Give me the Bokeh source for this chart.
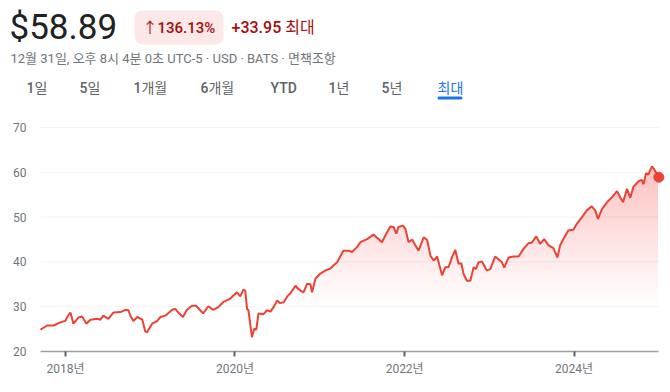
import numpy as np
import pandas as pd
from bokeh.plotting import figure
from bokeh.models import (Range1d, FixedTicker, DatetimeTickFormatter, Label, BoxAnnotation,
                          LinearAxis, DatetimeAxis)
from bokeh.embed import file_html
from bokeh.resources import INLINE

# ---- data ----
dates = [
    "2017-09-15", "2017-10-14", "2017-11-10", "2017-12-10", "2018-01-01", "2018-01-08",
    "2018-01-22", "2018-02-04", "2018-02-26", "2018-03-13", "2018-04-01", "2018-04-18",
    "2018-05-17", "2018-05-31", "2018-06-13", "2018-07-04", "2018-07-26", "2018-08-25",
    "2018-09-16", "2018-09-29", "2018-10-07", "2018-10-20", "2018-11-06", "2018-11-28",
    "2018-12-10", "2018-12-18", "2019-01-09", "2019-01-30", "2019-02-14", "2019-03-07",
    "2019-04-05", "2019-04-19", "2019-05-02", "2019-05-22", "2019-06-08", "2019-06-30",
    "2019-07-18", "2019-08-04", "2019-08-17", "2019-09-08", "2019-09-29", "2019-10-21",
    "2019-11-11", "2019-12-12", "2019-12-25", "2020-01-10", "2020-01-24", "2020-02-06",
    "2020-02-14", "2020-02-22", "2020-02-28", "2020-03-14", "2020-03-24", "2020-04-02",
    "2020-04-11", "2020-05-02", "2020-05-18", "2020-06-02", "2020-06-15", "2020-07-01",
    "2020-07-12", "2020-07-29", "2020-08-13", "2020-08-27", "2020-09-18", "2020-09-25",
    "2020-10-09", "2020-10-22", "2020-11-07", "2020-11-21", "2020-11-28", "2020-12-13",
    "2021-01-03", "2021-01-25", "2021-02-15", "2021-02-28", "2021-03-16", "2021-04-12",
    "2021-05-05", "2021-05-19", "2021-06-10", "2021-06-24", "2021-07-23", "2021-08-20",
    "2021-09-25", "2021-10-17", "2021-10-31", "2021-11-14", "2021-11-26", "2021-12-05",
    "2021-12-24", "2022-01-04", "2022-01-18", "2022-02-02", "2022-02-16", "2022-03-02",
    "2022-03-24", "2022-04-08", "2022-04-22", "2022-05-06", "2022-05-21", "2022-06-11",
    "2022-06-25", "2022-07-09", "2022-07-24", "2022-08-07", "2022-08-21", "2022-09-02",
    "2022-09-12", "2022-09-26", "2022-10-11", "2022-10-25", "2022-11-04", "2022-11-15",
    "2022-11-30", "2022-12-21", "2023-01-05", "2023-01-26", "2023-02-09", "2023-02-24",
    "2023-03-06", "2023-03-25", "2023-04-15", "2023-05-07", "2023-05-28", "2023-06-19",
    "2023-07-03", "2023-07-22", "2023-08-08", "2023-08-25", "2023-09-13", "2023-10-04",
    "2023-10-21", "2023-11-02", "2023-11-16", "2023-12-07", "2023-12-29", "2024-01-13",
    "2024-02-04", "2024-02-25", "2024-03-17", "2024-04-01", "2024-04-13", "2024-04-30",
    "2024-05-22", "2024-06-12", "2024-07-04", "2024-07-18", "2024-07-30", "2024-08-16",
    "2024-08-30", "2024-09-13", "2024-10-05", "2024-10-19", "2024-10-26", "2024-11-06",
    "2024-11-16", "2024-12-01", "2024-12-11", "2024-12-31",
]
prices = [
    24.9, 25.8, 25.8, 26.5, 26.9, 27.7,
    28.7, 26.2, 27.6, 27.8, 26.2, 27.1,
    27.3, 27.1, 28.0, 27.3, 28.7, 28.8,
    29.3, 29.2, 28.0, 26.8, 27.7, 27.1,
    24.5, 24.3, 26.2, 26.8, 27.7, 28.0,
    29.3, 29.5, 28.7, 27.7, 29.3, 30.2,
    30.2, 29.2, 28.5, 30.1, 29.3, 29.9,
    31.0, 31.8, 32.5, 33.2, 32.3, 33.8,
    33.6, 29.5, 29.2, 23.2, 25.1, 24.9,
    28.5, 28.3, 29.2, 28.9, 29.9, 31.4,
    30.8, 31.0, 32.3, 33.0, 34.7, 34.2,
    33.6, 33.2, 35.1, 35.0, 33.2, 36.3,
    37.4, 38.1, 38.5, 39.2, 39.9, 42.5,
    42.5, 42.2, 43.3, 44.4, 45.1, 46.1,
    44.4, 46.6, 47.9, 47.8, 46.3, 47.8,
    48.1, 47.4, 44.4, 45.0, 43.7, 42.5,
    45.5, 44.9, 41.4, 40.3, 41.2, 37.0,
    38.8, 38.8, 41.0, 42.7, 39.6, 39.7,
    37.3, 35.8, 35.8, 38.8, 38.4, 39.9,
    40.1, 38.1, 38.4, 41.2, 40.6, 39.9,
    38.7, 41.0, 41.2, 41.2, 42.9, 44.2,
    44.3, 45.7, 44.0, 45.1, 43.7, 43.1,
    41.0, 43.7, 45.1, 47.0, 47.2, 48.5,
    50.0, 51.5, 52.4, 51.5, 49.6, 51.8,
    53.3, 54.4, 55.8, 54.4, 53.3, 56.3,
    54.3, 56.8, 58.0, 58.3, 57.3, 59.8,
    59.5, 61.3, 60.7, 58.9,
]
y_ticks = [20, 30, 40, 50, 60, 70]
x_tick_dates = ["2018-01-01", "2020-01-01", "2022-01-01", "2024-01-01"]
tabs = ["1일", "5일", "1개월", "6개월", "YTD", "1년", "5년", "최대"]
price_text = "$58.89"
change_pct = "↑136.13%"
change_abs = "+33.95 최대"
subtitle = "12월 31일, 오후 8시 4분 0초 UTC-5 · USD · BATS · 면책조항"

# ---- styling / layout ----
RED = "#ea4335"
DARK_RED = "#a50e0e"
GRAY = "#70757a"
FONT = "Roboto, 'Noto Sans CJK KR', sans-serif"
MED = "'Roboto Medium', Roboto, 'Noto Sans CJK KR', sans-serif"
W, H = 670, 392
PLOT_L, PLOT_R = 40.0, 658.3      # pixel span of the data
BASE_Y, PX_PER_UNIT = 351.0, 4.48  # pixel row of value 20, pixels per unit

x = pd.to_datetime(dates)
v = np.array(prices)
x_ms = (x.astype("int64") // 10**6).to_numpy().astype(float)
ms_per_px = (x_ms[-1] - x_ms[0]) / (PLOT_R - PLOT_L)
xr = Range1d(x_ms[0] - PLOT_L * ms_per_px, x_ms[-1] + (W - PLOT_R) * ms_per_px)
yr = Range1d(20 - (H - BASE_Y) / PX_PER_UNIT, 20 + BASE_Y / PX_PER_UNIT)

p = figure(width=W, height=H, x_range=xr, y_range=yr,
           x_axis_location=None, y_axis_location=None,
           output_backend="svg", toolbar_location=None, min_border=0)
p.outline_line_color = None
for g in p.grid:
    g.visible = False
p.renderers = [r for r in p.renderers if r.__class__.__name__ != "Grid"]
p.center = [c for c in p.center if c.__class__.__name__ != "Grid"]

# horizontal gridlines limited to the data span
p.segment(x0=[x_ms[0]] * 5, x1=[x_ms[-1]] * 5, y0=y_ticks[1:], y1=y_ticks[1:],
          line_color="#f1f3f4", line_width=1)

# gradient fill via stacked translucent layers
levels = np.arange(20.0, 61.5, 0.5)
def target_alpha(y):
    return 0.24 * np.clip((y - 20.0) / 41.3, 0, 1) ** 1.7
prev = 0.0
for lo in levels:
    A = target_alpha(lo + 0.5)
    a = 1 - (1 - A) / (1 - prev)
    prev = A
    if a <= 0:
        continue
    p.varea(x=x_ms, y1=np.full(len(v), lo), y2=np.maximum(v, lo), fill_color=RED, fill_alpha=float(a))

p.line(x_ms, v, line_color=RED, line_width=2)
p.scatter([x_ms[-1]], [v[-1]], size=10, color=RED)

# x axis fixed at value 20
xaxis = DatetimeAxis(fixed_location=20)
xaxis.ticker = FixedTicker(ticks=[pd.Timestamp(d).value / 1e6 for d in x_tick_dates])
xaxis.formatter = DatetimeTickFormatter(years="%Y년", months="%Y년", days="%Y년")
xaxis.axis_line_color = "#9aa0a6"
xaxis.axis_line_width = 1.5
xaxis.bounds = (x_ms[0], x_ms[-1])
xaxis.major_tick_line_color = "#5f6368"
xaxis.major_tick_line_width = 2
xaxis.major_tick_out = 5
xaxis.major_tick_in = 0
xaxis.minor_tick_line_color = None
xaxis.major_label_standoff = 5
xaxis.major_label_text_color = GRAY
xaxis.major_label_text_font = FONT
xaxis.major_label_text_font_size = "12px"
p.add_layout(xaxis, "below")

# y axis fixed at the start of the data
yaxis = LinearAxis(fixed_location=x_ms[0])
yaxis.ticker = FixedTicker(ticks=y_ticks)
yaxis.axis_line_color = None
yaxis.major_tick_line_color = None
yaxis.minor_tick_line_color = None
yaxis.major_label_standoff = 8
yaxis.major_label_text_color = GRAY
yaxis.major_label_text_font = FONT
yaxis.major_label_text_font_size = "12px"
p.add_layout(yaxis, "left")

# header texts (screen units: frame covers the whole canvas)
def lab(text, px, py, size, color, font=FONT, **kw):
    p.add_layout(Label(x=px, y=H - py, x_units="screen", y_units="screen", text=text,
                       text_font=font, text_font_size=size, text_color=color,
                       text_align="left", text_baseline="middle", **kw))

lab(price_text, 9, 27, "35px", "#202124")
lab(change_pct, 134, 27, "15px", DARK_RED, font=MED,
    background_fill_color="#fce8e6", padding=8, border_radius=8)
lab(change_abs, 231, 27, "16px", DARK_RED, font=MED)
lab(subtitle, 10, 58, "13px", GRAY)

tab_x = [26, 79, 133, 200, 270, 328, 381, 437]
for t, tx in zip(tabs, tab_x):
    lab(t, tx, 87, "14px", "#1a73e8" if t == "최대" else "#5f6368", font=MED)

p.add_layout(BoxAnnotation(left=437, right=462, top=H - 96, bottom=H - 99,
                           left_units="screen", right_units="screen", top_units="screen",
                           bottom_units="screen", fill_color="#1a73e8", fill_alpha=1,
                           line_color=None, border_radius=2))

open("out.html", "w").write(file_html(p, INLINE))
